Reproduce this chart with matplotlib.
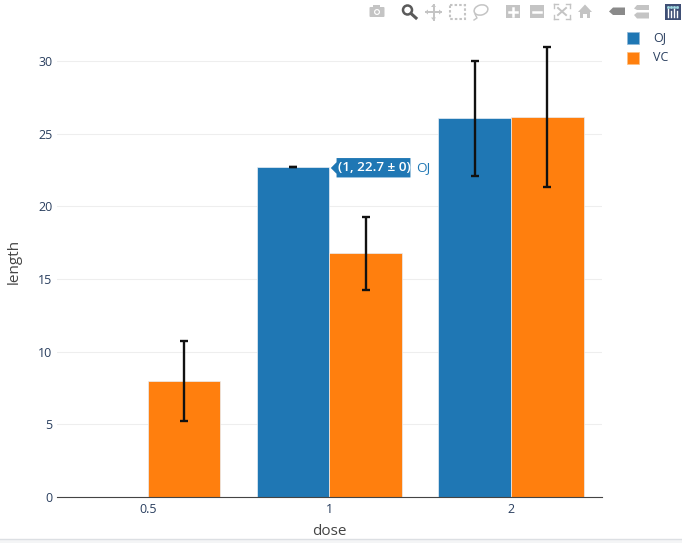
import matplotlib
matplotlib.use("Agg")
import matplotlib.pyplot as plt
from matplotlib.patches import Rectangle, Polygon, Circle, Ellipse, FancyBboxPatch

plt.rcParams['font.family'] = ['Open Sans', 'DejaVu Sans']

categories = ['0.5', '1', '2']
oj_values = [None, 22.7, 26.06]
vc_values = [7.98, 16.77, 26.14]
oj_errors = [None, 0.0, 3.95]
vc_errors = [2.75, 2.52, 4.8]
y_ticks = [0, 5, 10, 15, 20, 25, 30]
series_names = ['OJ', 'VC']
hover_text = '(1, 22.7 ± 0)'

OJ_COLOR = '#1f77b4'
VC_COLOR = '#ff7f0e'
TEXT = '#2a3f5f'
GREY = '#444444'
W, H = 682, 543

fig = plt.figure(figsize=(W / 100, H / 100), dpi=100, facecolor='white')

def px_axes(l, t, r, b):
    return fig.add_axes([l / W, 1 - b / H, (r - l) / W, (b - t) / H])

ax = px_axes(57, 25.5, 601.8, 497)
ax.set_xlim(-0.5, 2.5)
ax.set_ylim(0, 32.45)
ax.set_facecolor('none')
bw = 0.4
for offset, vals, errs, col in [(-bw / 2, oj_values, oj_errors, OJ_COLOR),
                                (bw / 2, vc_values, vc_errors, VC_COLOR)]:
    for i, (v, e) in enumerate(zip(vals, errs)):
        if v is None:
            continue
        ax.bar(i + offset, v, width=bw, color=col, edgecolor='#e8eef5',
               linewidth=0.5, zorder=2)
        ax.errorbar(i + offset, v, yerr=e, color='#111111', elinewidth=1.7,
                    capsize=3, capthick=1.7, zorder=3, clip_on=False)

ax.set_xticks(range(len(categories)), categories)
ax.set_yticks(y_ticks)
ax.grid(axis='y', color='#eeeeee', linewidth=0.8, zorder=0)
ax.set_axisbelow(True)
for s in ('top', 'right', 'left'):
    ax.spines[s].set_visible(False)
ax.spines['bottom'].set_color(GREY)
ax.spines['bottom'].set_linewidth(0.8)
ax.spines['bottom'].set_zorder(4)
ax.tick_params(axis='x', length=0, pad=4.5, labelsize=9, labelcolor=TEXT)
ax.tick_params(axis='y', length=0, pad=3.4, labelsize=9, labelcolor=TEXT)

# overlay in pixel coordinates for plotly chrome
ov = fig.add_axes([0, 0, 1, 1], facecolor='none')
ov.set_xlim(0, W)
ov.set_ylim(H, 0)
ov.axis('off')

# axis titles
ov.text(329.5, 531.5, 'dose', fontsize=11, color=GREY, ha='center', va='center')
ov.text(14, 261.5, 'length', fontsize=11, color=GREY, ha='center', va='center', rotation=90)

# legend
for y, col, name in zip((38, 57.5), (OJ_COLOR, VC_COLOR), series_names):
    ov.add_patch(Rectangle((627, y - 6), 12, 12, facecolor=col, edgecolor='#8fb8d8' if col == OJ_COLOR else '#ffc080', lw=0.5))
    ov.text(653, y, name, fontsize=9, color=TEXT, va='center', ha='left')

# hover label
ov.add_patch(Polygon([(330, 168), (336, 162), (336, 157.5), (411, 157.5), (411, 178), (336, 178), (336, 174)],
                     closed=True, facecolor=OJ_COLOR, edgecolor='white', lw=0.8, zorder=6))
ov.text(374, 167.5, hover_text, fontsize=9.7, color='white', va='center', ha='center', zorder=7, fontweight='semibold')
ov.text(416, 167.5, series_names[0], fontsize=9.7, color=OJ_COLOR, va='center', ha='left', zorder=7)

# modebar icons
L = '#c4c4c4'
D = '#5a5a5a'
ov.add_patch(FancyBboxPatch((369.5, 7), 15, 10, boxstyle='round,pad=0,rounding_size=1', fc=L, ec='none'))
ov.add_patch(Rectangle((373, 5), 7, 3, fc=L, ec='none'))
ov.add_patch(Circle((377, 12), 3, fc='white', ec='none'))
ov.add_patch(Circle((377, 12), 1.8, fc=L, ec='none'))
# zoom (active)
ov.add_patch(Circle((407.5, 10), 4.5, fc='white', ec=D, lw=1.8))
ov.plot([411, 416], [13.5, 18], color=D, lw=2.2)
# pan
ov.plot([426, 441], [12, 12], color=L, lw=1.4)
ov.plot([433.5, 433.5], [5, 20], color=L, lw=1.4)
for pts in ([(425, 12), (428, 9.5), (428, 14.5)], [(442, 12), (439, 9.5), (439, 14.5)],
            [(433.5, 4), (431, 7), (436, 7)], [(433.5, 20.5), (431, 17.5), (436, 17.5)]):
    ov.add_patch(Polygon(pts, fc=L, ec='none'))
# box select
ov.add_patch(Rectangle((450, 4.5), 15, 14, fc='none', ec=L, lw=1.5, ls=(0, (1.2, 1.0))))
# lasso
ov.add_patch(Ellipse((481, 10), 14, 10, angle=-15, fc='none', ec=L, lw=1.1))
ov.plot([475, 477, 474], [14, 18, 20], color=L, lw=1.0)
# plus / minus
for x0, plus in ((506, True), (530, False)):
    ov.add_patch(Rectangle((x0, 5), 14, 13, fc=L, ec='none'))
    ov.plot([x0 + 3, x0 + 11], [11.5, 11.5], color='white', lw=1.8)
    if plus:
        ov.plot([x0 + 7, x0 + 7], [7.5, 15.5], color='white', lw=1.8)
# autoscale
for a, b, c, d in ((554, 8, 554, 4), (570, 8, 570, 4), (554, 15, 554, 19), (570, 15, 570, 19)):
    ov.plot([a, c], [b, d], color=L, lw=1.0)
for a, c, y in ((554, 558, 4), (566, 570, 4), (554, 558, 19), (566, 570, 19)):
    ov.plot([a, c], [y, y], color=L, lw=1.0)
ov.plot([558, 566], [8, 15], color=L, lw=1.4)
ov.plot([558, 566], [15, 8], color=L, lw=1.4)
# home
ov.add_patch(Polygon([(578, 12), (585, 4.5), (592, 12), (590, 12), (590, 18), (587, 18), (587, 14), (583, 14), (583, 18), (580, 18), (580, 12)], fc=L, ec='none'))
# hover toggles
ov.add_patch(Polygon([(609, 11.5), (613, 7.5), (625, 7.5), (625, 15), (613, 15)], fc='#8a8a8a', ec='none'))
ov.add_patch(Polygon([(634, 8.5), (637, 5), (649, 5), (649, 10), (637, 10)], fc=L, ec='none'))
ov.add_patch(Polygon([(634, 15), (637, 12.5), (649, 12.5), (649, 18.5), (637, 18.5)], fc=L, ec='none'))
# plotly logo
ov.add_patch(Rectangle((665, 3.5), 16, 16, fc='#3f4f75', ec='none'))
for dx, y1 in ((668, 9), (671, 11), (674, 9), (677, 11)):
    ov.plot([dx, dx], [y1, 17], color='white', lw=1)
    ov.plot([dx], [6.5], marker='s', ms=1, color='#9fd8e0')

# page strip at bottom
ov.add_patch(Rectangle((0, 538.5), W, 5, fc='#f4f5f6', ec='none'))
ov.plot([0, W], [538.5, 538.5], color='#dcdfe3', lw=1)

fig.savefig('out.png', dpi=100)
